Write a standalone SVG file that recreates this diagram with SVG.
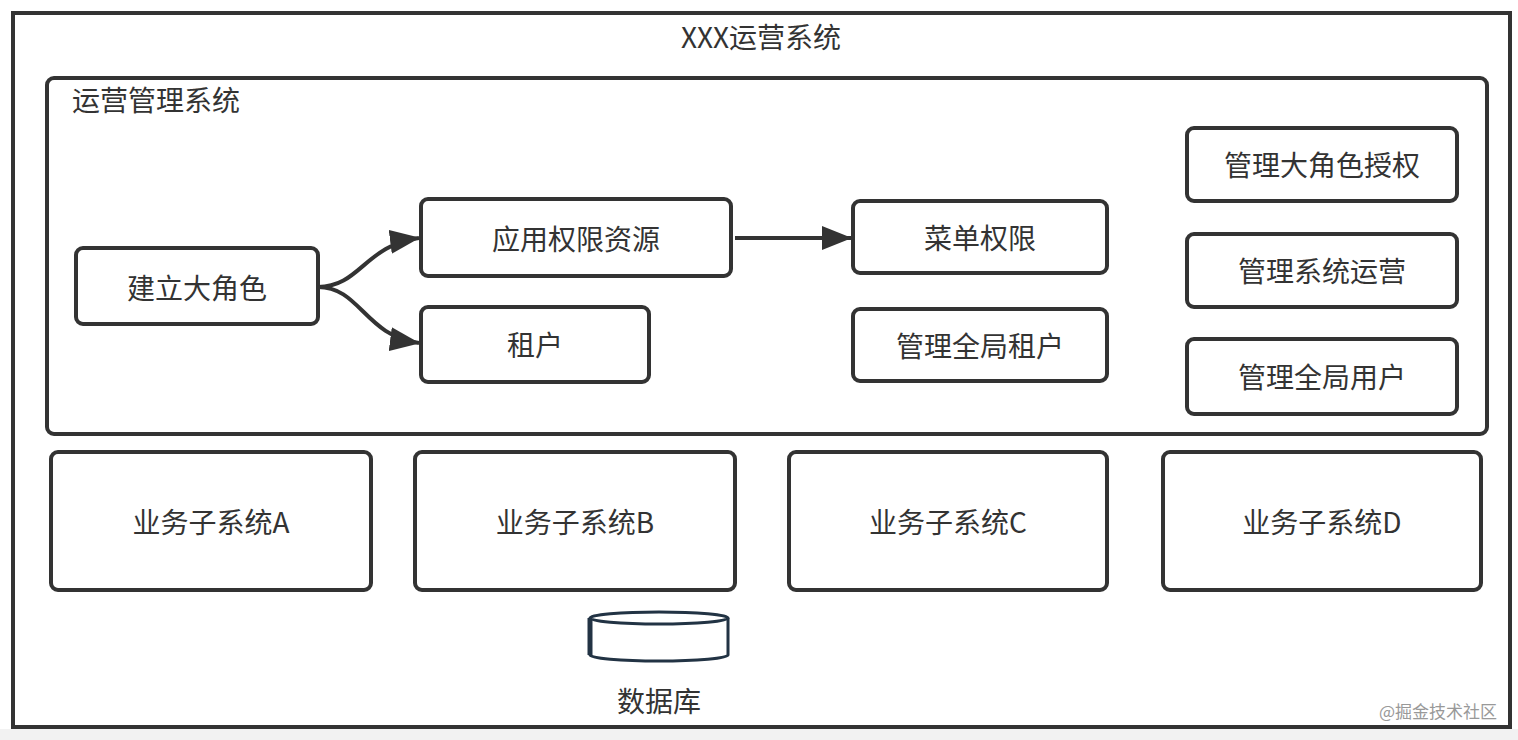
<svg xmlns="http://www.w3.org/2000/svg" width="1518" height="740" viewBox="0 0 1518 740">
<style>
.b{fill:#fff;stroke:#333;stroke-width:4}
.t{font-family:"Noto Sans CJK SC","Liberation Sans",sans-serif;font-size:28px;fill:#333;text-anchor:middle;dominant-baseline:central}
.c{fill:none;stroke:#333;stroke-width:4}
</style>
<defs><marker id="a" markerWidth="10" markerHeight="8" refX="9" refY="4" orient="auto" markerUnits="userSpaceOnUse" viewBox="0 0 10 8"><path d="M0,0L10,4L0,8z" fill="#333"/></marker>
<marker id="m" viewBox="0 0 30 24" refX="29" refY="12" markerWidth="30" markerHeight="24" orient="auto" markerUnits="userSpaceOnUse"><path d="M0,0L30,12L0,24z" fill="#333"/></marker></defs>
<rect x="0" y="0" width="1518" height="740" fill="#fff"/>
<rect x="0" y="729" width="1518" height="11" fill="#f2f2f2"/>
<g id="outer"><rect x="13" y="13" width="1497" height="714" fill="#fff" stroke="#333" stroke-width="4"/><text class="t" x="761" y="36">XXX运营系统</text></g>
<g id="mgmt"><rect class="b" x="47" y="78" width="1440" height="356" rx="7"/><text class="t" x="72" y="99" style="text-anchor:start">运营管理系统</text></g>
<g id="n1"><rect class="b" x="76" y="248" width="242" height="76" rx="7"/><text class="t" x="197" y="287">建立大角色</text></g>
<g id="n2"><rect class="b" x="421" y="199" width="310" height="77" rx="7"/><text class="t" x="576" y="238">应用权限资源</text></g>
<g id="n3"><rect class="b" x="421" y="307" width="228" height="75" rx="7"/><text class="t" x="535" y="344">租户</text></g>
<g id="n4"><rect class="b" x="853" y="201" width="254" height="72" rx="7"/><text class="t" x="980" y="237">菜单权限</text></g>
<g id="n5"><rect class="b" x="853" y="309" width="254" height="72" rx="7"/><text class="t" x="980" y="345">管理全局租户</text></g>
<g id="n6"><rect class="b" x="1187" y="128" width="270" height="73" rx="7"/><text class="t" x="1322" y="164">管理大角色授权</text></g>
<g id="n7"><rect class="b" x="1187" y="234" width="270" height="73" rx="7"/><text class="t" x="1322" y="270">管理系统运营</text></g>
<g id="n8"><rect class="b" x="1187" y="339" width="270" height="75" rx="7"/><text class="t" x="1322" y="376">管理全局用户</text></g>
<g id="sA"><rect class="b" x="51" y="452" width="320" height="138" rx="7"/><text class="t" x="211" y="521">业务子系统A</text></g>
<g id="sB"><rect class="b" x="415" y="452" width="320" height="138" rx="7"/><text class="t" x="575" y="521">业务子系统B</text></g>
<g id="sC"><rect class="b" x="789" y="452" width="318" height="138" rx="7"/><text class="t" x="948" y="521">业务子系统C</text></g>
<g id="sD"><rect class="b" x="1163" y="452" width="318" height="138" rx="7"/><text class="t" x="1322" y="521">业务子系统D</text></g>
<g id="db">
<path d="M590,618 L590,655 A69,6 0 0 0 728,655 L728,618" fill="#fff" stroke="#223344" stroke-width="3"/>
<path d="M590,618 L590,655" stroke="#223344" stroke-width="5"/>
<ellipse cx="659" cy="618" rx="69" ry="6" fill="#fff" stroke="#223344" stroke-width="3"/>
<text class="t" x="659" y="700">数据库</text></g>
<g id="connectors">
<path class="c" d="M318,287 C360,287 365,245 419,238" marker-end="url(#m)"/>
<path class="c" d="M318,287 C360,287 365,336 419,343" marker-end="url(#m)"/>
<path class="c" d="M735,238 L851,238" marker-end="url(#m)"/>
</g>
<text x="1497" y="710" style="font-family:'Noto Sans CJK SC',sans-serif;font-size:17px;fill:#999;text-anchor:end;dominant-baseline:central">@掘金技术社区</text>
</svg>
